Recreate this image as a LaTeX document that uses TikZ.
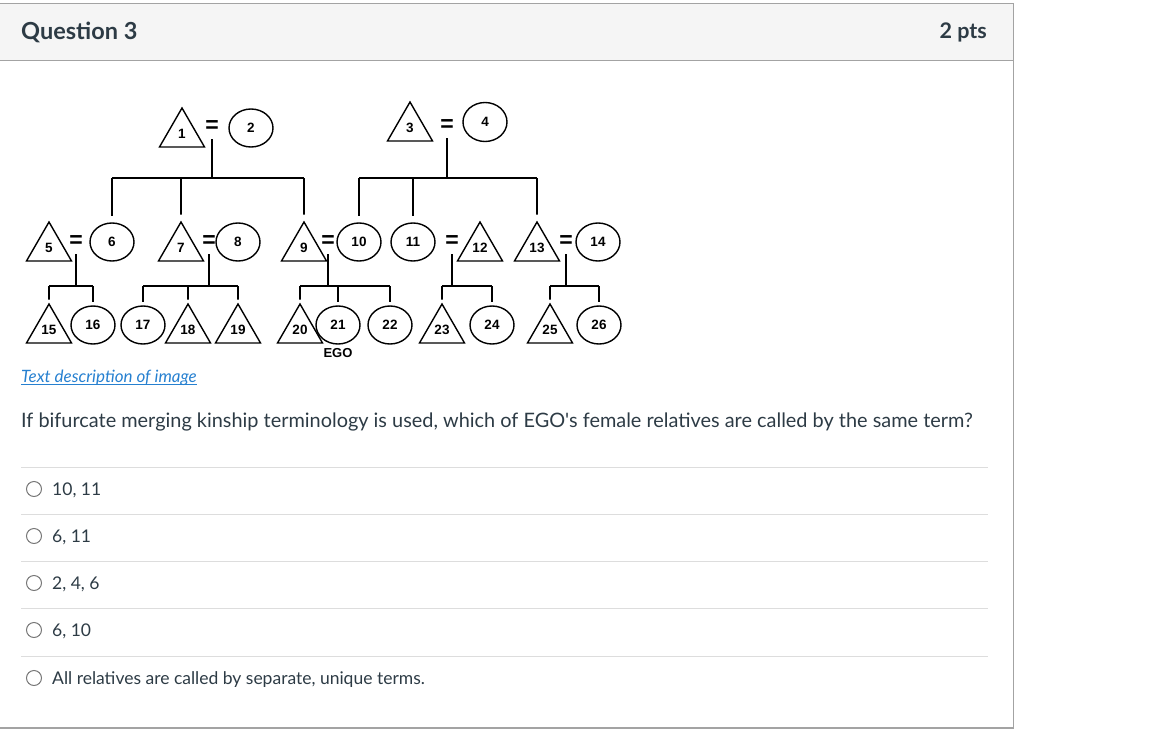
\documentclass[tikz,border=0pt]{standalone}
\usepackage{fontspec}
\setmainfont{Lato}
\newfontfamily\lato{Lato}
\newfontfamily\arialf{Liberation Sans}
\usetikzlibrary{shapes.geometric}
\definecolor{ink}{RGB}{45,59,69}
\definecolor{frame}{RGB}{163,163,163}
\definecolor{headbg}{RGB}{245,245,245}
\definecolor{sep}{RGB}{221,221,221}
\definecolor{linkc}{RGB}{38,128,208}
\definecolor{radio}{RGB}{120,120,120}
\tikzset{
  male/.style={regular polygon, regular polygon sides=3, draw=black, line width=1.4pt,
    minimum size=52pt, inner sep=0pt, font=\arialf\bfseries\fontsize{13.5}{15}\selectfont},
  female/.style={ellipse, draw=black, line width=1.4pt, minimum width=44pt, minimum height=38pt,
    inner sep=0pt, font=\arialf\bfseries\fontsize{13.5}{15}\selectfont},
  eq/.style={inner sep=0pt, font=\arialf\bfseries\fontsize{23}{23}\selectfont},
  kin/.style={line width=1.6pt, black},
  opt/.style={anchor=base west, inner sep=0pt, text=ink, font=\lato\fontsize{17.5}{21}\selectfont},
  radiob/.style={circle, draw=radio, line width=1pt, minimum size=15pt, inner sep=0pt},
  sepline/.style={draw=sep, line width=1pt}
}
\newcommand{\lo}[1]{\raisebox{-3pt}{#1}}
\begin{document}
\begin{tikzpicture}[x=1pt,y=-1pt]
\useasboundingbox (0,0) rectangle (1152,739);
% frame
\fill[headbg] (0,3.5) rectangle (1013.5,60.5);
\draw[frame, line width=1.2pt] (0,3.5) -- (1013.5,3.5) -- (1013.5,728) -- (0,728);
\draw[frame, line width=1.2pt] (0,60.5) -- (1013.5,60.5);
\node[anchor=base west, inner sep=0pt, text=ink, font=\lato\bfseries\fontsize{23.5}{26}\selectfont] (qtitle) at (21,39) {Question 3};
\node[anchor=base east, inner sep=0pt, text=ink, font=\lato\bfseries\fontsize{21.5}{24}\selectfont] (pts) at (987,38) {2 pts};

% generation 1
\node[male] (t1) at (182,134) {\lo{1}};
\node[eq] (m12) at (212,127) {=};
\node[female] (c2) at (251,128) {2};
\node[male] (t3) at (410,128) {\lo{3}};
\node[eq] (m34) at (447,126) {=};
\node[female, minimum height=39pt] (c4) at (485,122) {4};

% generation 2
\node[male] (t5) at (49,248) {\lo{5}};
\node[eq] (m56) at (76,242) {=};
\node[female] (c6) at (112,242) {6};
\node[male] (t7) at (181,248) {\lo{7}};
\node[eq] (m78) at (209,242) {=};
\node[female] (c8) at (238,242) {8};
\node[male] (t9) at (304,248) {\lo{9}};
\node[eq] (m910) at (328,242) {=};
\node[female] (c10) at (359,242) {10};
\node[female] (c11) at (413,242) {11};
\node[eq] (m1112) at (452,242) {=};
\node[male] (t12) at (480,248) {\lo{12}};
\node[male] (t13) at (537,248) {\lo{13}};
\node[eq] (m1314) at (566,242) {=};
\node[female] (c14) at (598,242) {14};

% generation 3
\node[male] (t15) at (49,330) {\lo{15}};
\node[female] (c16) at (93,325) {16};
\node[female] (c17) at (143,325) {17};
\node[male] (t18) at (188,330) {\lo{18}};
\node[male] (t19) at (238,330) {\lo{19}};
\node[male] (t20) at (300,330) {\lo{20}};
\node[female] (c21) at (338,325) {21};
\node[female] (c22) at (390,325) {22};
\node[male] (t23) at (442,330) {\lo{23}};
\node[female] (c24) at (492,325) {24};
\node[male] (t25) at (550,330) {\lo{25}};
\node[female] (c26) at (599,325) {26};
\node[inner sep=0pt, font=\arialf\bfseries\fontsize{13}{14}\selectfont] (ego) at (338,353) {EGO};

% descent lines gen1 -> gen2
\draw[kin] ([yshift=-6pt]m12.south) -- (m12 |- 0,178);
\draw[kin] (c6 |- 0,178) -- (t9 |- 0,178);
\foreach \n in {c6,t7,t9} \draw[kin] (\n |- 0,178) -- ([yshift=6pt]\n.north);
\draw[kin] ([yshift=-6pt]m34.south) -- (m34 |- 0,178);
\draw[kin] (c10 |- 0,178) -- (t13 |- 0,178);
\foreach \n in {c10,c11,t13} \draw[kin] (\n |- 0,178) -- ([yshift=6pt]\n.north);

% descent lines gen2 -> gen3
\foreach \m/\a/\b/\kids in {m56/t15/c16/{t15,c16}, m78/c17/t19/{c17,t18,t19}, m910/t20/c22/{t20,c21,c22}, m1112/t23/c24/{t23,c24}, m1314/t25/c26/{t25,c26}}{
  \draw[kin] ([yshift=-6pt]\m.south) -- (\m |- 0,286);
  \draw[kin] (\a |- 0,286) -- (\b |- 0,286);
  \foreach \n in \kids \draw[kin] (\n |- 0,286) -- ([yshift=3pt]\n.north);
}

% link
\node[anchor=base west, inner sep=0pt, text=linkc, font=\lato\itshape\fontsize{17}{20}\selectfont] (link) at (21,382) {Text description of image};
\draw[linkc, line width=0.9pt] ([yshift=-2.5pt]link.base west) -- ([yshift=-2.5pt]link.base east);

% question
\node[anchor=base west, inner sep=0pt, text=ink, font=\lato\fontsize{19.9}{24}\selectfont] (q) at (21,427) {If bifurcate merging kinship terminology is used, which of EGO's female relatives are called by the same term?};

% options
\foreach \y in {467,514,561,608,656} \draw[sepline] (21,\y) -- (988,\y);
\node[radiob] (r1) at (34,489) {};
\node[opt] (o1) at (52,495) {10, 11};
\node[radiob] (r2) at (34,536) {};
\node[opt] (o2) at (52,542) {6, 11};
\node[radiob] (r3) at (34,583) {};
\node[opt] (o3) at (52,589) {2, 4, 6};
\node[radiob] (r4) at (34,630) {};
\node[opt] (o4) at (52,636) {6, 10};
\node[radiob] (r5) at (34,678) {};
\node[opt] (o5) at (52,684) {All relatives are called by separate, unique terms.};
\end{tikzpicture}
\end{document}
